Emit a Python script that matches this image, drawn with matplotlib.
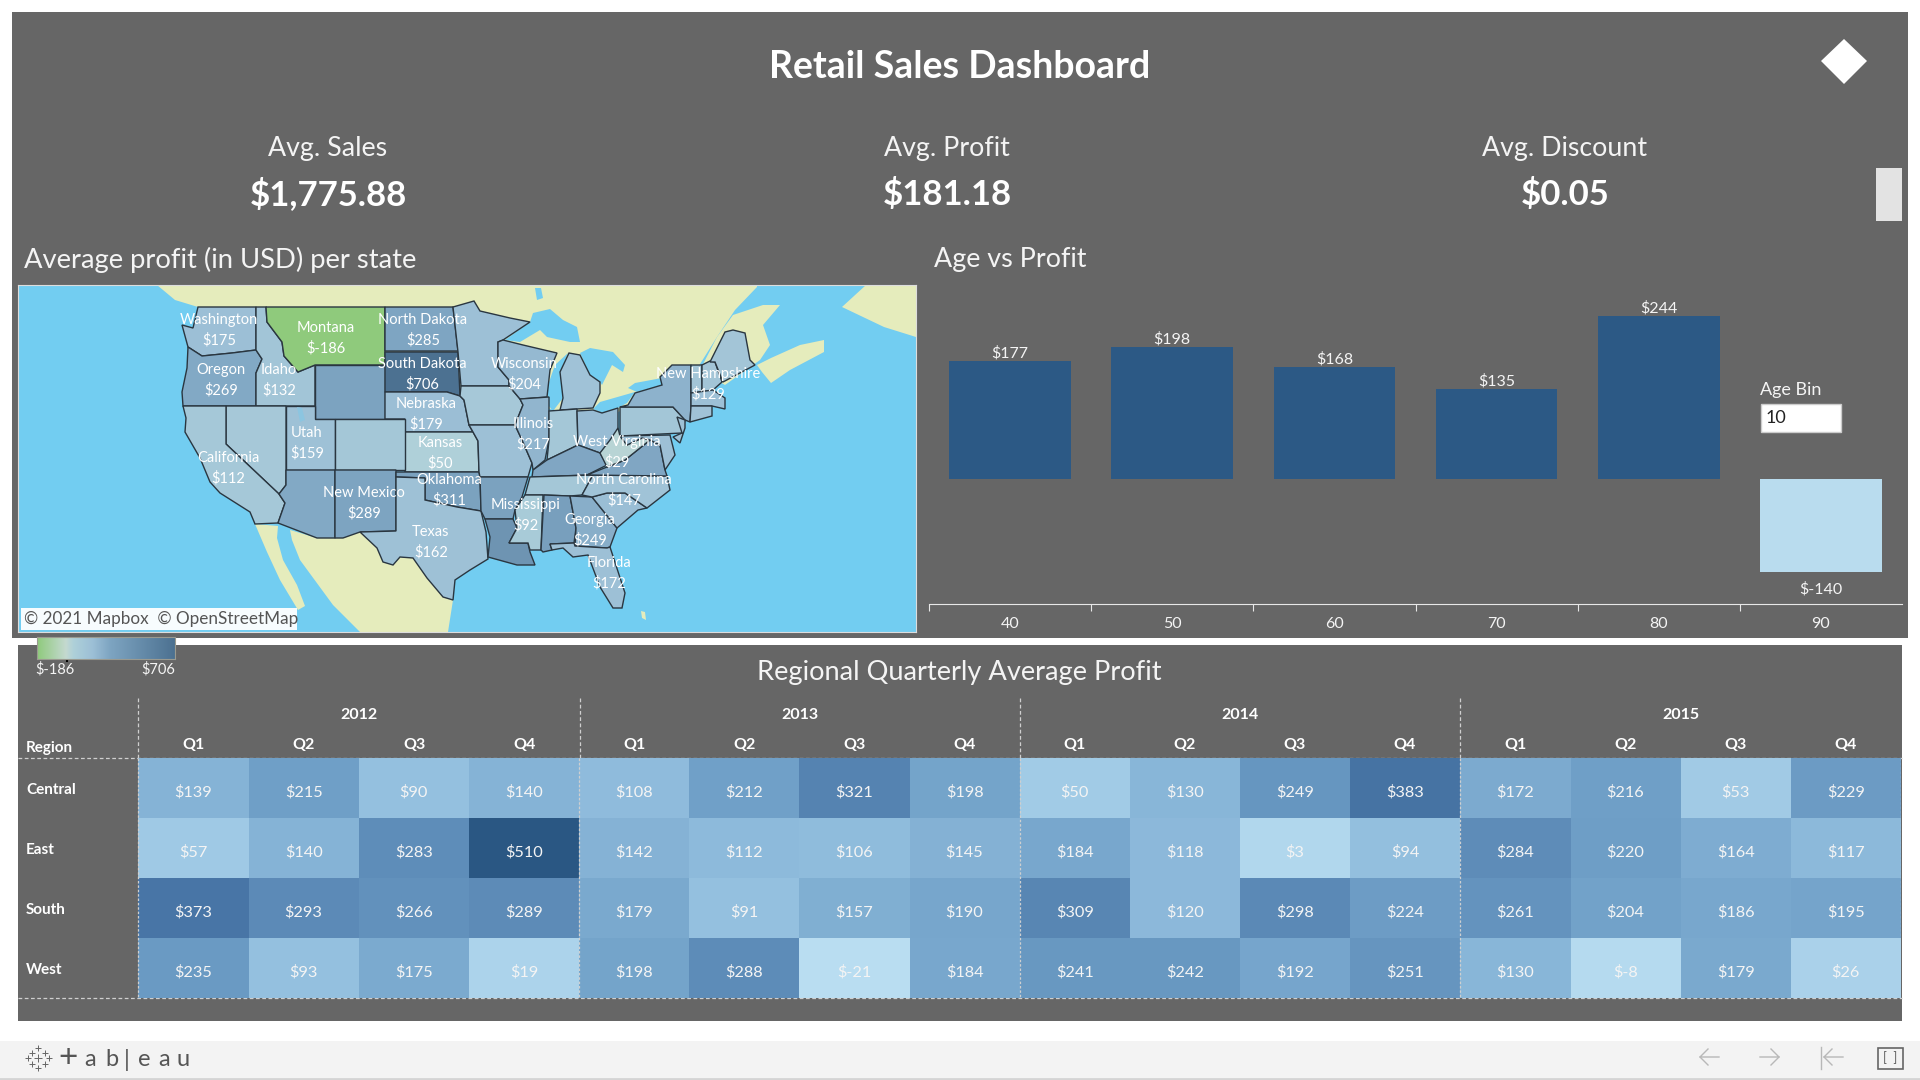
import numpy as np
import matplotlib
matplotlib.use("Agg")
import matplotlib.pyplot as plt
from matplotlib.colors import LinearSegmentedColormap, Normalize
from matplotlib.patches import Polygon, Rectangle

plt.rcParams["font.family"] = ["Lato", "DejaVu Sans"]

# colours
panel_grey = "#666666"
text_white = "#f4f4f4"
ocean = "#72cdf1"
land = "#e5ecbc"

# KPI row
kpi_names = ["Avg. Sales", "Avg. Profit", "Avg. Discount"]
kpi_values = ["$1,775.88", "$181.18", "$0.05"]

# age vs profit
age_bins = ["40", "50", "60", "70", "80", "90"]
age_profit = [177, 198, 168, 135, 244, -140]

# heatmap
years = ["2012", "2013", "2014", "2015"]
quarters = ["Q1", "Q2", "Q3", "Q4"]
regions = ["Central", "East", "South", "West"]
central = [139, 215, 90, 140, 108, 212, 321, 198, 50, 130, 249, 383, 172, 216, 53, 229]
east = [57, 140, 283, 510, 142, 112, 106, 145, 184, 118, 3, 94, 284, 220, 164, 117]
south = [373, 293, 266, 289, 179, 91, 157, 190, 309, 120, 298, 224, 261, 204, 186, 195]
west = [235, 93, 175, 19, 198, 288, -21, 184, 241, 242, 192, 251, 130, -8, 179, 26]

# state average profit, the ones without a label are guessed from their colour
state_profit = {
    "Washington": 175, "Montana": -186, "North Dakota": 285, "Oregon": 269, "Idaho": 132,
    "South Dakota": 706, "Wisconsin": 204, "New Hampshire": 129, "Nebraska": 179,
    "Illinois": 217, "Utah": 159, "Kansas": 50, "West Virginia": 29, "California": 112,
    "Oklahoma": 311, "North Carolina": 147, "New Mexico": 289, "Mississippi": 92,
    "Georgia": 249, "Texas": 162, "Florida": 172,
    "Wyoming": 300, "Colorado": 120, "Nevada": 110, "Arizona": 270, "Minnesota": 170,
    "Iowa": 110, "Missouri": 170, "Arkansas": 310, "Louisiana": 420, "Michigan": 150,
    "Indiana": 120, "Ohio": 190, "Kentucky": 280, "Tennessee": 120, "Alabama": 330,
    "South Carolina": 180, "Virginia": 280, "Pennsylvania": 125, "New York": 230,
    "Maryland": 170, "New Jersey": 160, "Vermont": 130, "Maine": 130,
    "Massachusetts": 170, "Connecticut": 150,
}

# rough outlines, in screen pixels of the dashboard
state_shapes = {
    "Washington": [(198, 307), (256, 307), (256, 350), (232, 353), (202, 356), (188, 347), (182, 325), (193, 328)],
    "Oregon": [(188, 347), (202, 356), (232, 353), (256, 350), (262, 359), (256, 373), (256, 406), (183, 406), (182, 392), (187, 368)],
    "Idaho": [(256, 307), (266, 307), (267, 322), (282, 342), (284, 356), (298, 372), (315, 365), (315, 406), (256, 406), (256, 373), (262, 359), (256, 350)],
    "Montana": [(266, 307), (385, 307), (385, 365), (315, 365), (298, 372), (284, 356), (282, 342), (267, 322)],
    "Wyoming": [(315, 365), (385, 365), (385, 419), (315, 419)],
    "North Dakota": [(385, 307), (453, 307), (458, 351), (385, 351)],
    "South Dakota": [(385, 352), (458, 352), (460, 396), (447, 392), (385, 392)],
    "Nebraska": [(385, 392), (447, 392), (460, 396), (464, 400), (469, 425), (473, 432), (405, 432), (405, 419), (385, 419)],
    "Kansas": [(405, 432), (473, 432), (478, 441), (479, 472), (405, 472)],
    "Utah": [(286, 406), (315, 406), (315, 419), (335, 419), (335, 470), (286, 470)],
    "Colorado": [(335, 419), (405, 419), (405, 470), (335, 470)],
    "Nevada": [(226, 406), (286, 406), (286, 485), (279, 494), (226, 444)],
    "California": [(183, 406), (226, 406), (226, 444), (279, 494), (285, 503), (278, 523), (255, 524), (250, 512), (220, 493), (210, 482), (200, 458), (185, 432), (186, 418)],
    "Arizona": [(286, 470), (335, 470), (335, 538), (317, 538), (278, 523), (285, 503), (279, 494), (286, 485)],
    "New Mexico": [(335, 470), (396, 470), (396, 531), (360, 532), (343, 538), (335, 538)],
    "Oklahoma": [(396, 472), (479, 472), (480, 477), (481, 511), (457, 507), (425, 500), (425, 478), (396, 477)],
    "Texas": [(396, 477), (425, 478), (425, 500), (457, 507), (481, 511), (486, 532), (488, 559), (470, 570), (455, 580), (453, 600), (443, 597), (427, 578), (413, 558), (400, 557), (393, 565), (383, 562), (377, 548), (360, 532), (396, 531)],
    "Minnesota": [(453, 307), (474, 301), (480, 311), (510, 318), (530, 322), (503, 340), (498, 342), (498, 367), (509, 380), (509, 386), (461, 386), (458, 352)],
    "Iowa": [(461, 386), (509, 386), (520, 399), (523, 405), (515, 425), (469, 425), (464, 400), (460, 396)],
    "Missouri": [(469, 425), (515, 425), (522, 440), (532, 463), (528, 477), (480, 477), (479, 472), (478, 441), (473, 432)],
    "Arkansas": [(480, 477), (528, 477), (522, 497), (515, 510), (513, 519), (485, 519), (481, 511)],
    "Louisiana": [(485, 519), (513, 519), (517, 528), (509, 543), (528, 543), (530, 552), (535, 565), (517, 565), (488, 557), (490, 537)],
    "Wisconsin": [(498, 342), (503, 340), (523, 345), (557, 353), (550, 370), (547, 397), (520, 399), (509, 386), (509, 380), (498, 367)],
    "Illinois": [(520, 399), (549, 397), (549, 440), (545, 460), (533, 470), (532, 463), (522, 440), (515, 425), (523, 405)],
    "Michigan": [(569, 353), (580, 355), (590, 375), (600, 382), (600, 393), (593, 408), (560, 410), (563, 398), (560, 372)],
    "Indiana": [(549, 411), (577, 409), (578, 445), (547, 460), (549, 440)],
    "Ohio": [(577, 411), (593, 410), (602, 413), (618, 408), (618, 428), (613, 442), (600, 453), (578, 445)],
    "Kentucky": [(532, 477), (533, 470), (547, 460), (578, 445), (600, 453), (607, 465), (587, 475)],
    "Tennessee": [(530, 477), (593, 475), (582, 495), (570, 496), (544, 495), (525, 495)],
    "Mississippi": [(525, 495), (543, 495), (541, 550), (530, 550), (528, 543), (509, 543), (517, 528), (515, 510)],
    "Alabama": [(544, 495), (570, 496), (576, 528), (574, 543), (550, 544), (552, 550), (543, 552), (541, 550)],
    "Georgia": [(570, 496), (592, 497), (617, 528), (610, 547), (607, 548), (575, 546), (576, 528)],
    "Florida": [(550, 544), (574, 543), (575, 546), (607, 548), (610, 547), (625, 593), (622, 608), (613, 608), (600, 587), (588, 555), (573, 557), (563, 548), (552, 550)],
    "South Carolina": [(592, 497), (607, 493), (625, 493), (647, 508), (638, 510), (617, 528)],
    "North Carolina": [(593, 475), (667, 476), (670, 490), (647, 508), (625, 493), (607, 493), (592, 497), (582, 495)],
    "Virginia": [(587, 475), (607, 467), (625, 460), (650, 440), (660, 445), (665, 470), (667, 476)],
    "West Virginia": [(600, 453), (610, 440), (618, 428), (620, 436), (627, 445), (642, 438), (650, 440), (625, 460), (607, 467)],
    "Pennsylvania": [(620, 407), (673, 407), (685, 420), (682, 433), (620, 436)],
    "New York": [(628, 405), (635, 393), (662, 385), (660, 377), (672, 365), (691, 365), (691, 406), (690, 422), (685, 420), (673, 407), (620, 407)],
    "Maryland": [(620, 436), (670, 435), (675, 455), (665, 470), (660, 445), (650, 440), (642, 438), (627, 445)],
    "New Jersey": [(677, 417), (685, 420), (685, 428), (680, 443), (673, 437), (682, 433)],
    "Vermont": [(691, 365), (702, 365), (702, 392), (691, 393)],
    "New Hampshire": [(702, 365), (710, 361), (715, 362), (722, 382), (713, 390), (702, 392)],
    "Maine": [(710, 362), (725, 332), (733, 330), (745, 333), (750, 360), (755, 365), (723, 382), (715, 362)],
    "Massachusetts": [(691, 393), (713, 390), (725, 398), (725, 409), (712, 406), (691, 406)],
    "Connecticut": [(691, 406), (712, 406), (712, 416), (690, 422)],
}
land_shapes = [
    [(157, 285), (175, 300), (198, 307), (198, 330), (600, 420), (690, 380), (717, 337), (735, 310), (757, 287), (757, 285)],
    [(717, 337), (733, 315), (763, 305), (780, 305), (763, 325), (770, 345), (760, 360), (725, 385), (700, 370)],
    [(757, 365), (771, 358), (800, 345), (824, 340), (824, 352), (790, 370), (771, 383), (762, 372)],
    [(842, 307), (866, 285), (916, 285), (916, 337), (884, 327)],
    [(255, 524), (278, 526), (277, 538), (283, 560), (297, 585), (305, 606), (298, 610), (280, 580), (267, 552)],
    [(290, 530), (317, 538), (343, 538), (360, 532), (377, 548), (383, 562), (393, 565), (400, 557), (413, 558), (427, 578), (443, 597), (453, 600), (448, 632), (360, 632), (333, 605), (300, 560), (292, 540)],
    [(641, 611), (645, 612), (646, 620), (642, 618)],
]
lake_shapes = [
    [(505, 340), (530, 322), (533, 313), (550, 309), (563, 320), (577, 327), (580, 342), (570, 342), (547, 337), (540, 330), (520, 342)],
    [(548, 385), (555, 365), (568, 353), (560, 372), (563, 398), (553, 411), (548, 405)],
    [(580, 353), (590, 348), (613, 352), (625, 365), (623, 372), (612, 365), (602, 385), (600, 382), (590, 375)],
    [(593, 409), (600, 402), (635, 392), (627, 403), (618, 408), (602, 413)],
    [(628, 388), (635, 383), (662, 378), (662, 385), (637, 392)],
    [(535, 288), (541, 288), (543, 298), (537, 300)],
    [(297, 407), (302, 408), (305, 420), (300, 422)],
]
# label spots for the labelled states
label_spots = {
    "Washington": (219, 330), "Montana": (326, 338), "North Dakota": (423, 330), "Oregon": (221, 380),
    "Idaho": (279, 380), "South Dakota": (422, 374), "Wisconsin": (524, 374), "New Hampshire": (708, 384),
    "Nebraska": (426, 414), "Illinois": (533, 434), "Utah": (307, 443), "Kansas": (440, 453),
    "West Virginia": (617, 452), "California": (228, 468), "Oklahoma": (449, 490), "North Carolina": (624, 490),
    "New Mexico": (364, 503), "Mississippi": (526, 515), "Georgia": (590, 530), "Texas": (431, 542),
    "Florida": (609, 573),
}

# footer word mark
logo_letters = ["a", "b", "|", "e", "a", "u"]
logo_spots = [90, 112, 127, 144, 164, 183]

W, H = 1920, 1080
fig = plt.figure(figsize=(19.2, 10.8), dpi=100, facecolor="white")


def px_axes(x0, y0, x1, y1, z=1):
    return fig.add_axes([x0 / W, 1 - y1 / H, (x1 - x0) / W, (y1 - y0) / H], zorder=z)


# page with panels and all the loose text, in pixels
page = px_axes(0, 0, W, H, 0)
page.set_xlim(0, W)
page.set_ylim(H, 0)
page.axis("off")
page.add_patch(Rectangle((12, 12), 1896, 626, color=panel_grey, lw=0))
page.add_patch(Rectangle((18, 645), 1884, 376, color=panel_grey, lw=0))
page.add_patch(Rectangle((0, 1041), W, 39, color="#f3f3f3", lw=0))
page.plot([0, W], [1079, 1079], color="#d4d4d4", lw=2)

page.text(960, 66.5, "Retail Sales Dashboard", color="white", fontsize=27, fontweight="bold", ha="center", va="center")
page.add_patch(Polygon([(1844, 39), (1867, 61), (1844, 84), (1821, 61)], color="white", lw=0))
page.add_patch(Rectangle((1876, 168), 26, 53, color="#e3e3e3", lw=0))

for name, value, x in zip(kpi_names, kpi_values, [328, 947, 1565]):
    page.text(x, 148.5, name, color=text_white, fontsize=19.3, ha="center", va="center")
    page.text(x, 194.5, value, color="white", fontsize=25, fontweight="bold", ha="center", va="center")

page.text(24, 259.5, "Average profit (in USD) per state", color=text_white, fontsize=19.7, va="center")
page.text(934, 259.5, "Age vs Profit", color=text_white, fontsize=19.4, va="center")
page.text(959, 672.5, "Regional Quarterly Average Profit", color=text_white, fontsize=19.6, ha="center", va="center")

# map
map_ax = px_axes(18, 285, 916, 632)
map_ax.set_xlim(18, 916)
map_ax.set_ylim(632, 285)
map_ax.set_xticks([])
map_ax.set_yticks([])
map_ax.set_facecolor(ocean)
for s in map_ax.spines.values():
    s.set_color("#dddddd")
map_cmap = LinearSegmentedColormap.from_list(
    "map_ramp",
    [(0, "#8fca7c"), (186 / 892, "#c4d9d0"), (236 / 892, "#aed0d9"), (361 / 892, "#9cbfd6"),
     (471 / 892, "#7ea5c2"), (1, "#4c7191")],
)
map_norm = Normalize(-186, 706)
for shape in land_shapes:
    map_ax.add_patch(Polygon(shape, facecolor=land, edgecolor="none"))
for shape in lake_shapes[:5]:
    map_ax.add_patch(Polygon(shape, facecolor=ocean, edgecolor="none"))
map_ax.add_patch(Polygon(lake_shapes[5], facecolor=ocean, edgecolor="none"))
for state, shape in state_shapes.items():
    map_ax.add_patch(Polygon(shape, facecolor=map_cmap(map_norm(state_profit[state])), edgecolor="#2a3640", lw=1.0))
map_ax.add_patch(Polygon(lake_shapes[6], facecolor="#8cc5e0", edgecolor="none"))
for state, (x, y) in label_spots.items():
    map_ax.text(x, y, f"{state}\n${state_profit[state]}", color="white", fontsize=10.5, ha="center", va="center", linespacing=1.55)
map_ax.add_patch(Rectangle((21, 608), 276, 22, color="white", alpha=0.95, lw=0))
map_ax.text(24, 619, "© 2021 Mapbox  © OpenStreetMap", color="#555555", fontsize=12.3, va="center")

# colour legend
legend_ax = px_axes(37, 637, 175, 659, 3)
legend_ax.imshow(np.linspace(0, 1, 256).reshape(1, -1), cmap=map_cmap, aspect="auto")
legend_ax.set_xticks([])
legend_ax.set_yticks([])
for s in legend_ax.spines.values():
    s.set_color("#9a9a90")
page.plot([67, 67], [656, 661], color="black", lw=1.5, zorder=5)
page.text(35, 669.5, "$-186", color=text_white, fontsize=10.5, va="center")
page.text(175, 669.5, "$706", color=text_white, fontsize=10.5, ha="right", va="center")

# age vs profit bars
bar_ax = px_axes(929, 285, 1902, 604)
bar_ax.patch.set_alpha(0)
bar_ax.set_xlim(0, 6)
bar_ax.set_ylim(-187.4, 290.8)
bar_pos = np.arange(len(age_bins)) + 0.5
bar_colors = ["#2c5985" if v > 0 else "#b9dcee" for v in age_profit]
bar_ax.bar(bar_pos, age_profit, width=0.75, color=bar_colors)
for x, v in zip(bar_pos, age_profit):
    if v > 0:
        bar_ax.text(x, v + 1, f"${v}", color=text_white, fontsize=11.5, ha="center", va="bottom")
    else:
        bar_ax.text(x, v - 15, f"${v}", color=text_white, fontsize=11.5, ha="center", va="top")
for side in ["top", "left", "right"]:
    bar_ax.spines[side].set_visible(False)
bar_ax.spines["bottom"].set_color("#e8e8e8")
bar_ax.set_yticks([])
bar_ax.set_xticks(np.arange(6))
bar_ax.set_xticklabels([])
bar_ax.set_xticks(bar_pos, minor=True)
bar_ax.set_xticklabels(age_bins, minor=True, color=text_white, fontsize=11.5)
bar_ax.tick_params(axis="x", which="major", color="#e8e8e8", length=5, direction="out")
bar_ax.tick_params(axis="x", which="minor", length=0, pad=9)

page.text(1760, 390, "Age Bin", color=text_white, fontsize=13, va="center")
page.add_patch(Rectangle((1761, 404), 80, 28, facecolor="white", edgecolor="#cccccc", lw=1))
page.text(1766, 418, "10", color="#222222", fontsize=13, va="center")

# heatmap
heat_ax = px_axes(138.4, 758, 1901, 998)
heat_values = np.array([central, east, south, west])
heat_cmap = LinearSegmentedColormap.from_list(
    "heat_ramp",
    [(0, "#b9ddf1"), (111 / 531, "#94c0df"), (236 / 531, "#6f9fc7"), (394 / 531, "#4875a6"), (1, "#2a5783")],
)
heat_ax.pcolormesh(np.arange(17), np.arange(5), heat_values, cmap=heat_cmap, vmin=-21, vmax=510)
heat_ax.set_ylim(4, 0)
heat_ax.set_xlim(0, 16)
heat_ax.axis("off")
for r in range(4):
    for c in range(16):
        heat_ax.text(c + 0.5, r + 0.57, f"${heat_values[r, c]}", color=text_white, fontsize=11.8, ha="center", va="center")

# heatmap headers and dashed rules
rule = dict(color="#cfcfcf", lw=0.9, ls=(0, (3, 2)), zorder=6)
year_edges = [138.4, 579.5, 1020, 1460, 1901]
for i, year in enumerate(years):
    page.plot([year_edges[i]] * 2, [698, 758], **rule)
    page.text((year_edges[i] + year_edges[i + 1]) / 2, 715, year, color="white", fontsize=11.5, fontweight="bold", ha="center", va="center")
    for q, quarter in enumerate(quarters):
        x = year_edges[i] + (q + 0.5) * (year_edges[i + 1] - year_edges[i]) / 4
        page.text(x, 745, quarter, color="white", fontsize=11.5, fontweight="bold", ha="center", va="center")
page.plot([18, 1902], [758, 758], **rule)
page.plot([18, 1902], [998, 998], **rule)
page.text(26, 748, "Region", color="white", fontsize=11, fontweight="bold", va="center")
for region, y in zip(regions, [790, 850, 910, 970]):
    page.text(26, y, region, color="white", fontsize=11, fontweight="bold", va="center")
heat_ax.vlines([4, 8, 12, 16], 0, 4, color="#cfcfcf", lw=0.9, ls=(0, (2, 1.5)), zorder=6)
heat_ax.vlines([0], 0, 4, color="#cfcfcf", lw=0.9, ls=(0, (2, 1.5)), zorder=6, clip_on=False)

# footer
page.scatter([38, 38, 38, 28, 49, 32, 45, 32, 45], [1058, 1048, 1068, 1058, 1058, 1053, 1053, 1064, 1064],
             marker="+", s=[40, 16, 16, 16, 16, 22, 22, 22, 22], color="#666666", lw=0.7)
page.text(68, 1058, "+", color="#555555", fontsize=24, ha="center", va="center")
for letter, x in zip(logo_letters, logo_spots):
    page.text(x, 1060, letter, color="#555555", fontsize=17, ha="center", va="center")
arrow_grey = "#b8b8b8"
page.plot([1719, 1700, 1708], [1057, 1057, 1049], color=arrow_grey, lw=1)
page.plot([1700, 1708], [1057, 1065], color=arrow_grey, lw=1)
page.plot([1760, 1779, 1771], [1057, 1057, 1049], color=arrow_grey, lw=1)
page.plot([1779, 1771], [1057, 1065], color=arrow_grey, lw=1)
page.plot([1821, 1821], [1047, 1069], color=arrow_grey, lw=1)
page.plot([1843, 1824, 1832], [1057, 1057, 1049], color=arrow_grey, lw=1)
page.plot([1824, 1832], [1057, 1065], color=arrow_grey, lw=1)
page.add_patch(Rectangle((1878, 1048), 25, 21, facecolor="none", edgecolor="#666666", lw=1.2))
page.text(1890.5, 1058, "[  ]", color="#666666", fontsize=9, ha="center", va="center")

fig.savefig("out.png", dpi=100)
